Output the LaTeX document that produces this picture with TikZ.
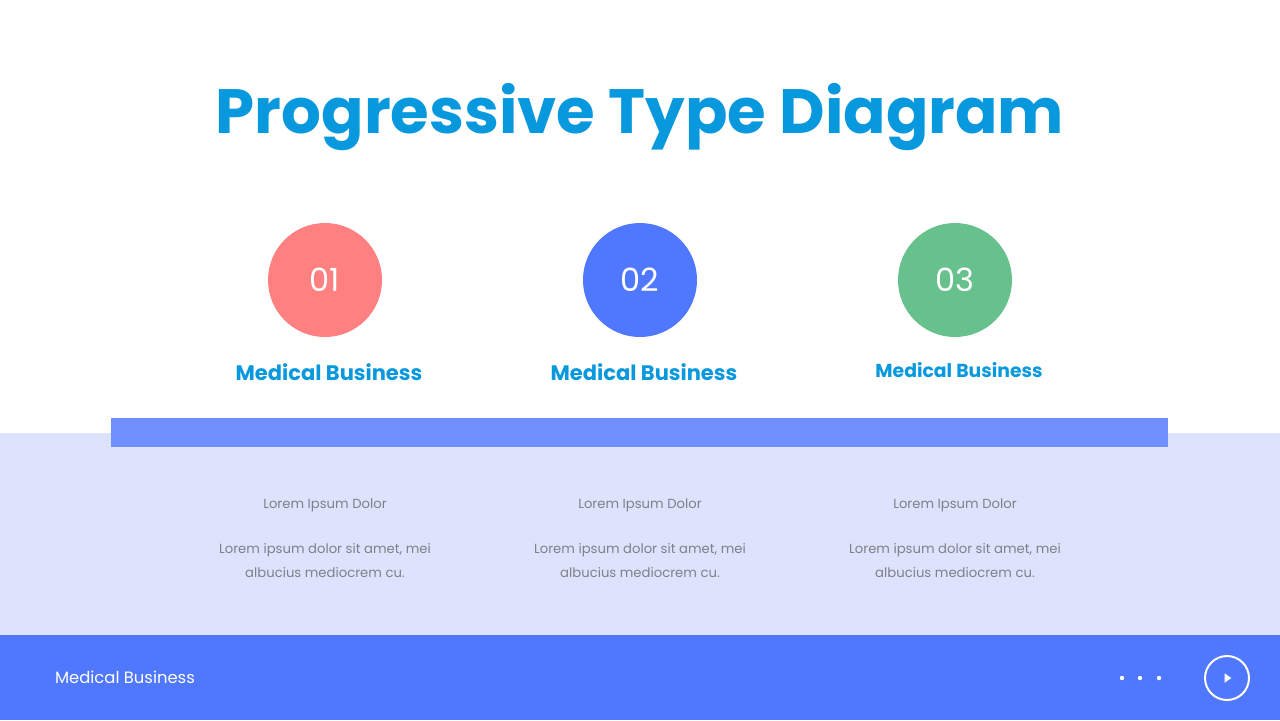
\documentclass[tikz,border=0pt]{standalone}
\usepackage{fontspec}
\setmainfont{Poppins}
\usetikzlibrary{shapes.geometric}
\definecolor{titleblue}{RGB}{8,152,222}
\definecolor{stepred}{RGB}{255,128,128}
\definecolor{stepblue}{RGB}{80,120,255}
\definecolor{stepgreen}{RGB}{102,193,140}
\definecolor{barblue}{RGB}{112,144,255}
\definecolor{bandblue}{RGB}{221,227,253}
\definecolor{loremgray}{RGB}{128,128,138}
\tikzset{
  num/.style={circle,minimum size=57pt,inner sep=0pt,text=white,font=\fontsize{16}{16}\selectfont},
  head/.style={text=titleblue,font=\bfseries\fontsize{10.5}{12}\selectfont},
  lorem/.style={text=loremgray,font=\fontsize{6.6}{12}\selectfont,align=center},
  dot/.style={circle,fill=white,inner sep=0pt,minimum size=2.2pt}
}
\begin{document}
\begin{tikzpicture}[x=0.5pt,y=-0.5pt]
\useasboundingbox (0,0) rectangle (1280,720);
\fill[white] (0,0) rectangle (1280,720);
% bands
\fill[bandblue] (0,433) rectangle (1280,635);
\fill[barblue] (111,418) rectangle (1168,447);
\fill[stepblue] (0,635) rectangle (1280,720);
\node (title) [text=titleblue,font=\bfseries\fontsize{31.3}{36}\selectfont] at (640,117) {Progressive Type Diagram};
% steps
\node (c1) [num,fill=stepred] at (325,280) {01};
\node (c2) [num,fill=stepblue] at (640,280) {02};
\node (c3) [num,fill=stepgreen] at (955,280) {03};
\node (h1) [head] at (329,372) {Medical Business};
\node (h2) [head] at (644,372) {Medical Business};
\node (h3) [head,font=\bfseries\fontsize{9.4}{12}\selectfont] at (959,370) {Medical Business};
\foreach \x/\n in {325/1,640/2,955/3}{
  \node (t\n) [lorem] at (\x,505) {Lorem Ipsum Dolor};
  \node (b\n) [lorem] at (\x,561) {Lorem ipsum dolor sit amet, mei\\albucius mediocrem cu.};
}
% footer
\node (foot) [anchor=west,text=white,font=\fontsize{8.2}{10}\selectfont] at (48,677) {Medical Business};
\foreach \x/\n in {1122/1,1140/2,1159/3}
  \node (d\n) [dot] at (\x,678) {};
\node (play) [circle,draw=white,line width=1pt,minimum size=22pt,inner sep=0pt] at (1227,678) {};
\node (tri) [isosceles triangle,fill=white,inner sep=0pt,minimum height=3.4pt,minimum width=4pt,isosceles triangle apex angle=70] at (play.center) {};
\end{tikzpicture}
\end{document}
